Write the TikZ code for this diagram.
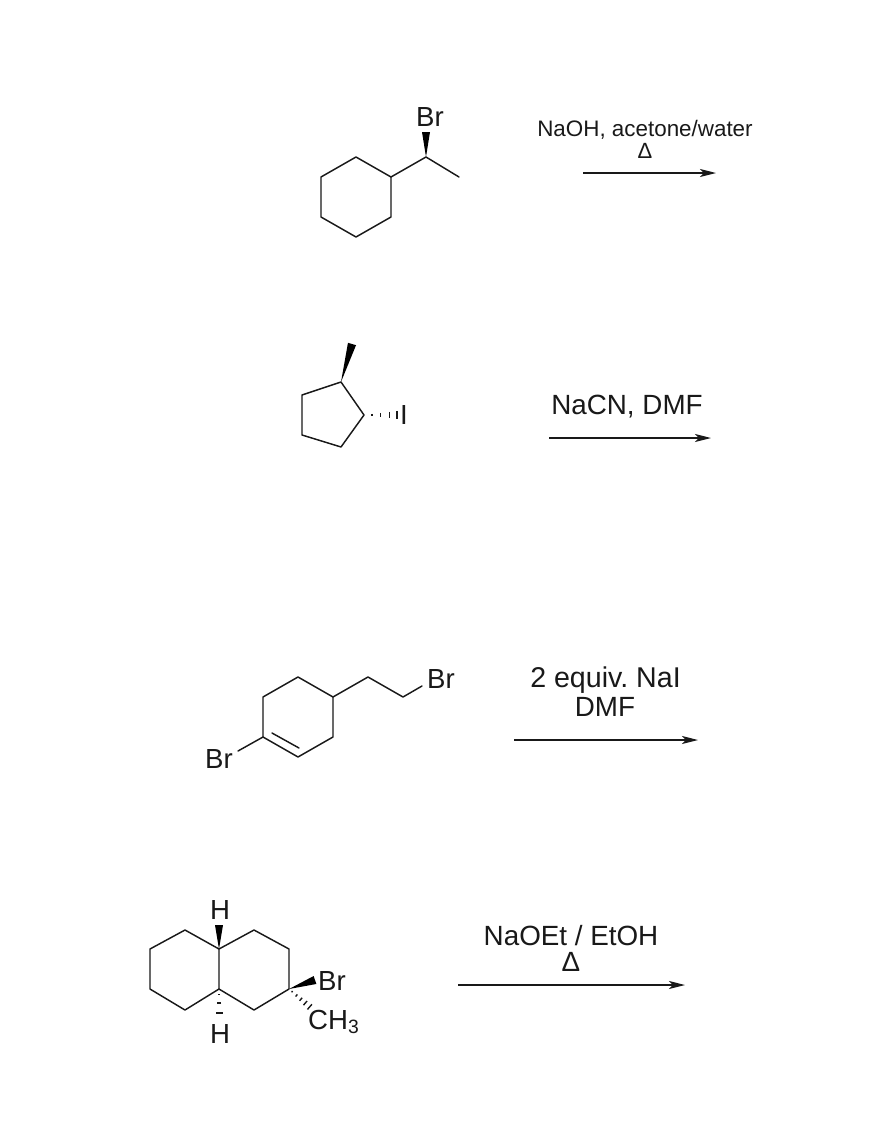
\documentclass[tikz,border=0pt]{standalone}
\usepackage{fontspec}
\setmainfont{Liberation Sans}
\usetikzlibrary{arrows.meta,calc}
\frenchspacing
\tikzset{
  bond/.style={line width=1.45pt,line cap=round,line join=round,black!90},
  wedgefill/.style={fill=black,draw=none},
  atom/.style={inner sep=0pt,font=\fontsize{27.6}{32}\selectfont,text=black!90},
  reagent/.style={inner sep=0pt,font=\fontsize{27.8}{32}\selectfont,text=black!90},
  rxnarrow/.style={line width=1.4pt,black!90,-{Stealth[length=16pt,width=8pt,inset=4pt]}},
}
% wedge from narrow end #1 to wide end #2, half width #3
\newcommand{\wedgebond}[3]{\fill[wedgefill] (#1) -- ($(#2)!#3!90:(#1)$) -- ($(#2)!#3!-90:(#1)$) -- cycle;}
% one hash stroke at fraction #3 along #1->#2, half width #4
\newcommand{\hashstroke}[4]{\coordinate (hh) at ($(#1)!#3!(#2)$);\draw[line width=1.4pt,black!90] ($(hh)!#4!90:(#2)$) -- ($(hh)!#4!-90:(#2)$);}
\begin{document}
\begin{tikzpicture}[x=1pt,y=-1pt]
\useasboundingbox[fill=white] (0,0) rectangle (882,1128);

% molecule 1
\coordinate (a1) at (356,157);\coordinate (a2) at (391,177);\coordinate (a3) at (391,217);
\coordinate (a4) at (356,237);\coordinate (a5) at (321,217);\coordinate (a6) at (321,177);
\coordinate (a7) at (426,157);\coordinate (a8) at (459,177);\coordinate (a9) at (426,132);
\draw[bond] (a1)--(a2)--(a3)--(a4)--(a5)--(a6)--cycle;
\draw[bond] (a2)--(a7)--(a8);
\wedgebond{a7}{a9}{4pt}
\node[atom] (br1) at (430,117.5) {Br};

% molecule 2
\coordinate (b1) at (341,382);\coordinate (b2) at (364,415);\coordinate (b3) at (341,447);
\coordinate (b4) at (302,435);\coordinate (b5) at (302,395);\coordinate (b6) at (352,344);
\coordinate (b7) at (404,415);
\draw[bond] (b1)--(b2)--(b3)--(b4)--(b5)--cycle;
\wedgebond{b1}{b6}{4.2pt}
\node[atom] (i1) at (404,415) {I};
\hashstroke{b2}{b7}{0.2}{1.2pt}
\hashstroke{b2}{b7}{0.41}{2.2pt}
\hashstroke{b2}{b7}{0.63}{3.2pt}
\hashstroke{b2}{b7}{0.82}{4.2pt}

% molecule 3
\coordinate (c1) at (298,677);\coordinate (c2) at (333,697);\coordinate (c3) at (333,737);
\coordinate (c4) at (298,757);\coordinate (c5) at (263,737);\coordinate (c6) at (263,697);
\coordinate (c7) at (368,677);\coordinate (c8) at (403,697);
\coordinate (c9) at (272,733);\coordinate (c10) at (299,748);
\coordinate (c11) at (422,686);\coordinate (c12) at (238,751);
\node[atom] (br2) at (441,679) {Br};
\node[atom] (br3) at (219,759) {Br};
\draw[bond] (c1)--(c2)--(c3)--(c4)--(c5)--(c6)--cycle;
\draw[bond] (c2)--(c7)--(c8)--(c11);
\draw[bond] (c5)--(c12);
\draw[bond] (c9)--(c10);

% molecule 4
\coordinate (d1) at (219,949);\coordinate (d2) at (219,989);\coordinate (d3) at (185,1010);
\coordinate (d4) at (150,989);\coordinate (d5) at (150,949);\coordinate (d6) at (185,930);
\coordinate (d7) at (254,930);\coordinate (d8) at (289,949);\coordinate (d9) at (289,989);
\coordinate (d10) at (254,1010);
\coordinate (d11) at (219,925);\coordinate (d12) at (315,980);\coordinate (d13) at (219,1017);
\coordinate (d14) at (311,1008);
\draw[bond] (d1)--(d2)--(d3)--(d4)--(d5)--(d6)--cycle;
\draw[bond] (d1)--(d7)--(d8)--(d9)--(d10)--(d2);
\wedgebond{d1}{d11}{4pt}
\wedgebond{d9}{d12}{4.2pt}
\node[atom] (h1) at (220,910) {H};
\node[atom] (h2) at (220,1034) {H};
\node[atom] (br4) at (332,981) {Br};
\node[atom,anchor=base west] (ch3) at (308,1029) {CH\textsubscript{3}};
\hashstroke{d2}{d13}{0.2}{1pt}
\hashstroke{d2}{d13}{0.5}{2pt}
\hashstroke{d2}{d13}{0.85}{3.5pt}
\hashstroke{d9}{d14}{0.14}{0.8pt}
\hashstroke{d9}{d14}{0.34}{1.4pt}
\hashstroke{d9}{d14}{0.54}{2pt}
\hashstroke{d9}{d14}{0.74}{2.7pt}
\hashstroke{d9}{d14}{0.94}{3.4pt}

% reactions
\node[reagent,font=\fontsize{22.4}{26}\selectfont] (r1a) at (645,129.5) {NaOH, acetone/water};
\node[reagent,font=\fontsize{22}{26}\selectfont] (r1b) at (645,151) {Δ};
\coordinate (p1) at (583,173);\coordinate (q1) at (716,173);
\draw[rxnarrow] (p1)--(q1);

\node[reagent] (r2) at (627,407) {NaCN, DMF};
\coordinate (p2) at (549,438);\coordinate (q2) at (711,438);
\draw[rxnarrow] (p2)--(q2);

\node[reagent,font=\fontsize{28.6}{32}\selectfont] (r3a) at (605.5,680) {2 equiv. NaI};
\node[reagent] (r3b) at (605,707) {DMF};
\coordinate (p3) at (514,740);\coordinate (q3) at (698,740);
\draw[rxnarrow] (p3)--(q3);

\node[reagent] (r4a) at (571,935.5) {NaOEt / EtOH};
\node[reagent] (r4b) at (571,962) {Δ};
\coordinate (p4) at (458,985);\coordinate (q4) at (685,985);
\draw[rxnarrow] (p4)--(q4);
\end{tikzpicture}
\end{document}
